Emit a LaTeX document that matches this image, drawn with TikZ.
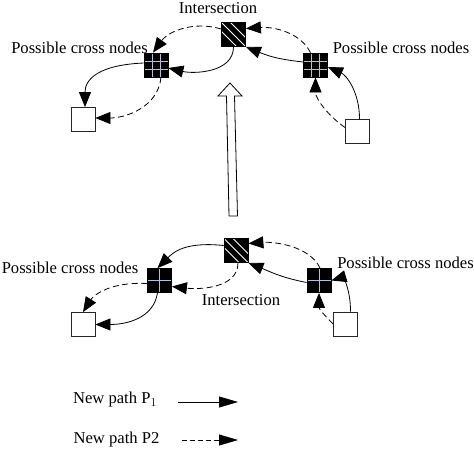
\documentclass[tikz,border=0pt]{standalone}
\usepackage{fontspec}
\setmainfont{Liberation Serif}
\usetikzlibrary{arrows.meta}
\definecolor{gridblue}{RGB}{175,195,225}
\tikzset{
  sq/.style={draw, minimum size=24pt, inner sep=0pt, line width=0.8pt},
  whitesq/.style={sq, draw=black!85, fill=white},
  inter/.style={sq, fill=black, path picture={
      \foreach \d in {-9,0,9}{
        \draw[white, line width=0.9pt] ([xshift=\d pt]path picture bounding box.north west) -- ([xshift=\d pt]path picture bounding box.south east);}
    }},
  gridnode/.style={sq, fill=black, path picture={
      \foreach \d in {-4,4}{
        \draw[gridblue, line width=1pt] ([xshift=\d pt]path picture bounding box.north) -- ([xshift=\d pt]path picture bounding box.south);
        \draw[gridblue, line width=1pt] ([yshift=\d pt]path picture bounding box.west) -- ([yshift=\d pt]path picture bounding box.east);}
    }},
  plusnode/.style={sq, fill=black, path picture={
        \draw[gridblue, line width=1pt] (path picture bounding box.north) -- (path picture bounding box.south);
        \draw[gridblue, line width=1pt] (path picture bounding box.west) -- (path picture bounding box.east);
    }},
  lbl/.style={inner sep=0pt, font=\fontsize{16.6}{19}\selectfont},
  tipA/.style={-{Triangle[length=15pt,width=12pt]}},
  pone/.style={tipA, line width=0.8pt},
  ptwo/.style={tipA, line width=0.8pt, dash pattern=on 6pt off 3.5pt},
  legtip/.style={-{Triangle[length=19pt,width=11pt]}, line width=0.8pt},
}
\begin{document}
\begin{tikzpicture}[x=1pt,y=-1pt]
\useasboundingbox (0,0) rectangle (474,450);

% ---------- top group ----------
\node[inter] (I1) at (233.5,34.5) {};
\node[gridnode] (L1) at (156,65) {};
\node[gridnode] (R1) at (315.5,65) {};
\node[whitesq] (WL1) at (83,119.5) {};
\node[whitesq] (WR1) at (357.5,131.5) {};

\node[lbl] (tI1) at (218,8) {Intersection};
\node[lbl] (tL1) at (79.5,48) {Possible cross nodes};
\node[lbl] (tR1) at (401,48) {Possible cross nodes};

\draw[ptwo] ([yshift=5.5pt]I1.west) .. controls +(-26,-8) and +(16,-22) .. ([xshift=-3pt]L1.north);
\draw[pone] (I1.south) .. controls +(0,26) and +(25,6) .. ([yshift=-3pt]L1.east);
\draw[pone] ([yshift=2pt]L1.west) .. controls +(-45,2) and +(0,-28) .. ([xshift=2pt]WL1.north);
\draw[ptwo] ([xshift=5pt]L1.south) .. controls +(-3,30) and +(30,0) .. ([yshift=1.5pt]WL1.east);
\draw[ptwo] ([xshift=-5pt]R1.north) .. controls +(-10,-20) and +(28,-2) .. ([yshift=6pt]I1.east);
\draw[pone] ([yshift=3pt]R1.west) .. controls +(-28,-3) and +(20,8) .. (I1.south east);
\draw[pone] ([xshift=2pt]WR1.north) .. controls +(0,-28) and +(18,8) .. ([yshift=-2pt]R1.east);
\draw[ptwo] ([yshift=4pt]WR1.west) .. controls +(-15,-10) and +(0,22) .. (R1.south);

% ---------- big arrow ----------
\draw[line width=0.8pt, fill=white] (229,216) -- (226.5,96) -- (218,96) -- (230,83) -- (242,96) -- (234.5,96) -- (237.5,216) -- cycle;

% ---------- bottom group ----------
\node[inter] (I2) at (236,250.5) {};
\node[plusnode] (L2) at (159.5,280.5) {};
\node[plusnode] (R2) at (319,280.5) {};
\node[whitesq] (WL2) at (83,324.5) {};
\node[whitesq] (WR2) at (345.5,324) {};

\node[lbl] (tI2) at (241,300) {Intersection};
\node[lbl] (tL2) at (70,268) {Possible cross nodes};
\node[lbl] (tR2) at (405.5,263) {Possible cross nodes};

\draw[pone] ([yshift=5pt]I2.west) .. controls +(-38,-4) and +(16,-16) .. ([xshift=-2pt]L2.north);
\draw[ptwo] ([xshift=2pt]I2.south) .. controls +(0,26) and +(26,3) .. ([yshift=-6pt]L2.east);
\draw[ptwo] ([yshift=-3pt]L2.west) .. controls +(-38,-2) and +(10,-16) .. (WL2.north);
\draw[pone] ([xshift=-2pt]L2.south) .. controls +(-4,26) and +(30,0) .. (WL2.east);
\draw[ptwo] ([xshift=1pt]R2.north) .. controls +(-10,-22) and +(26,-2) .. ([yshift=7pt]I2.east);
\draw[pone] ([yshift=-2pt]R2.west) .. controls +(-26,-5) and +(20,8) .. (I2.south east);
\draw[pone] ([xshift=5pt]WR2.north) .. controls +(0,-26) and +(10,-3) .. (R2.east);
\draw[ptwo] (WR2.west) .. controls +(-8,-8) and +(0,16) .. (R2.south);

% ---------- legend ----------
\node[lbl] (leg1) at (115,400) {New path P$_1$};
\node[lbl] (leg2) at (116.5,440) {New path P2};
\coordinate (a1) at (178,402);
\coordinate (b1) at (238,402);
\coordinate (a2) at (182,440);
\coordinate (b2) at (238,440);
\draw[legtip] (a1) -- (b1);
\draw[legtip, dash pattern=on 5pt off 3pt] (a2) -- (b2);
\end{tikzpicture}
\end{document}
